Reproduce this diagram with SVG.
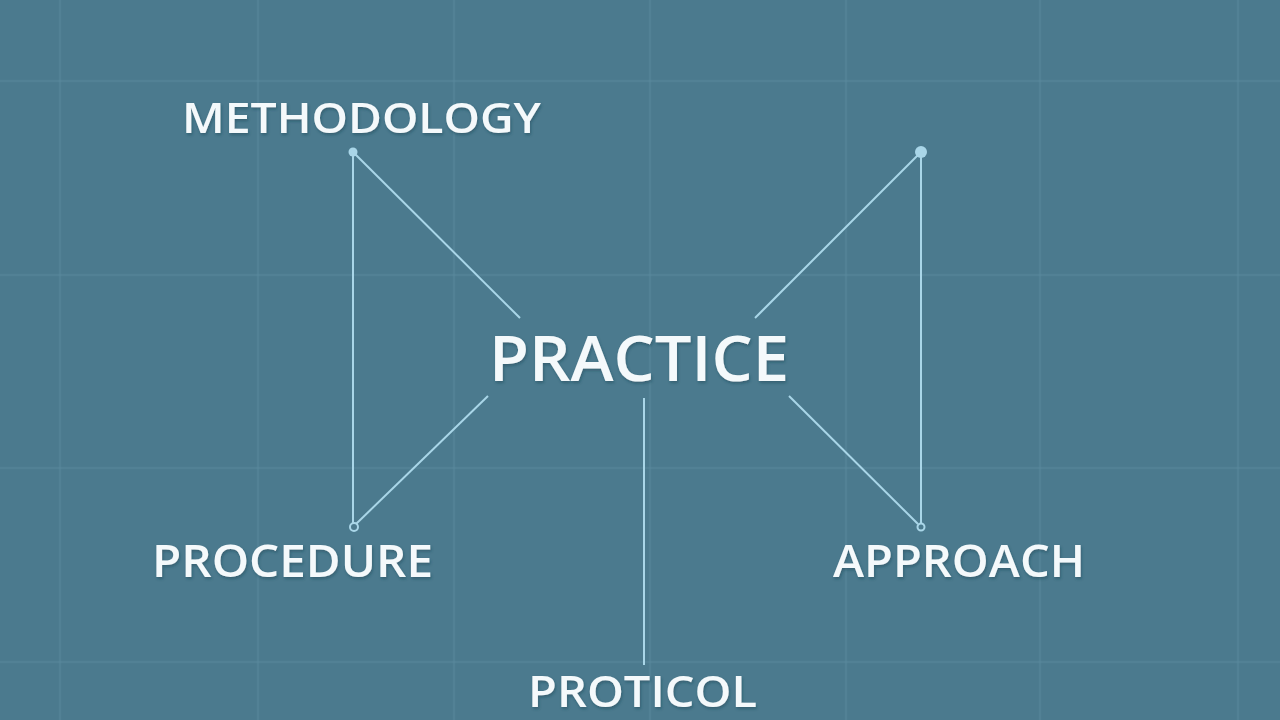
<svg xmlns="http://www.w3.org/2000/svg" width="1280" height="720" viewBox="0 0 1280 720">
  <defs>
    <style>
      .grid line { stroke: #5a899d; stroke-width: 2.5; opacity: 0.5; }
      .conn line { stroke: #a9d6e8; stroke-width: 2; fill: none; }
      .lbl { font-family: "Open Sans", "Liberation Sans", sans-serif; font-weight: 600; fill: #f4f9fb; text-anchor: middle; }
      .dot { fill: #a9d6e8; }
      .ring { fill: none; stroke: #a9d6e8; stroke-width: 2; }
    </style>
    <filter id="sh" x="-10%" y="-20%" width="120%" height="140%">
      <feDropShadow dx="1" dy="2" stdDeviation="1.5" flood-color="#1d3f4e" flood-opacity="0.45"/>
    </filter>
  </defs>
  <rect width="1280" height="720" fill="#4b7a8e"/>
  <g class="grid">
    <line x1="60" y1="0" x2="60" y2="720"/>
    <line x1="258" y1="0" x2="258" y2="720"/>
    <line x1="454" y1="0" x2="454" y2="720"/>
    <line x1="650" y1="0" x2="650" y2="720"/>
    <line x1="846" y1="0" x2="846" y2="720"/>
    <line x1="1040" y1="0" x2="1040" y2="720"/>
    <line x1="1238" y1="0" x2="1238" y2="720"/>
    <line x1="0" y1="81" x2="1280" y2="81"/>
    <line x1="0" y1="275" x2="1280" y2="275"/>
    <line x1="0" y1="468" x2="1280" y2="468"/>
    <line x1="0" y1="662" x2="1280" y2="662"/>
  </g>
  <g id="connectors" class="conn">
    <line x1="353" y1="152" x2="353" y2="523"/>
    <line x1="353" y1="152" x2="520" y2="318"/>
    <line x1="356" y1="524" x2="488" y2="396"/>
    <line x1="921" y1="152" x2="921" y2="523"/>
    <line x1="921" y1="152" x2="755" y2="318"/>
    <line x1="918" y1="524" x2="789" y2="396"/>
    <line x1="644" y1="398" x2="644" y2="665"/>
  </g>
  <g id="practice">
    <text class="lbl" x="639" y="381" font-size="63" textLength="300" lengthAdjust="spacingAndGlyphs" filter="url(#sh)">PRACTICE</text>
  </g>
  <g id="methodology">
    <circle class="dot" cx="353" cy="152" r="4.5"/>
    <text class="lbl" x="361.5" y="133" font-size="41" textLength="359" lengthAdjust="spacingAndGlyphs" filter="url(#sh)">METHODOLOGY</text>
  </g>
  <g id="approach-top">
    <circle class="dot" cx="921" cy="152" r="6"/>
  </g>
  <g id="procedure">
    <circle class="ring" cx="354" cy="527" r="4"/>
    <text class="lbl" x="292.5" y="577" font-size="45" textLength="281" lengthAdjust="spacingAndGlyphs" filter="url(#sh)">PROCEDURE</text>
  </g>
  <g id="approach">
    <circle class="ring" cx="921" cy="527" r="3.5"/>
    <text class="lbl" x="959" y="577" font-size="45" textLength="252" lengthAdjust="spacingAndGlyphs" filter="url(#sh)">APPROACH</text>
  </g>
  <g id="proticol">
    <text class="lbl" x="642.5" y="707" font-size="44" textLength="229" lengthAdjust="spacingAndGlyphs" filter="url(#sh)">PROTICOL</text>
  </g>
</svg>
